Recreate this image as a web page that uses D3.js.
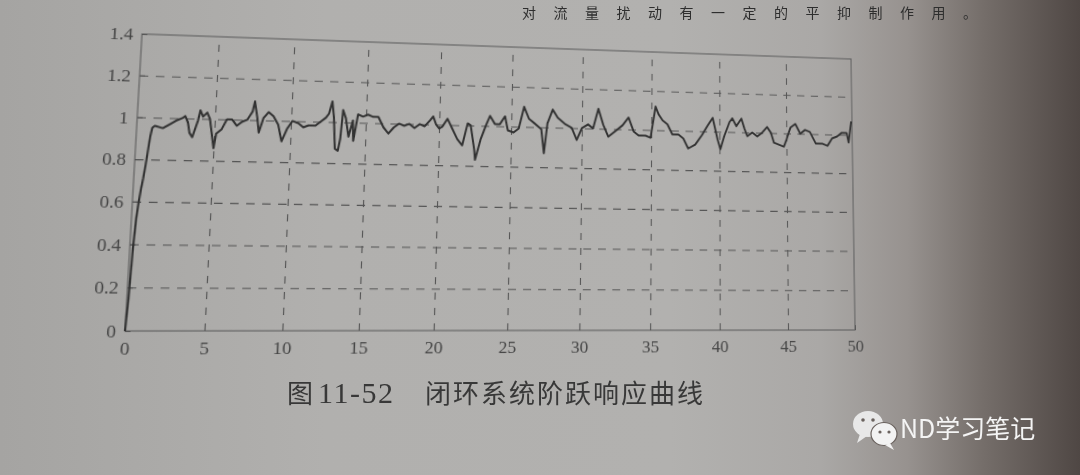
<!DOCTYPE html>
<html><head><meta charset="utf-8">
<script src="https://cdn.jsdelivr.net/npm/d3@7"></script>
<style>
html,body{margin:0;padding:0;width:1080px;height:475px;overflow:hidden;}
body{position:relative;background:linear-gradient(90deg,#a5a4a2 0%,#b1b0ae 30%,#b2b1af 62%,#aaa8a6 76%,#97928f 84%,#756e6a 91%,#4f4744 100%);}
#chart{position:absolute;left:0;top:0;transform-origin:0 0;}
#overlay{position:absolute;left:0;top:0;}
</style></head><body>
<svg id="chart" width="1080" height="475"></svg>
<svg id="overlay" width="1080" height="475"></svg>
<script>
// ---------------- data ----------------
const time = [0,0.1,0.2,0.3,0.4,0.5,0.6,0.7,0.8,0.9,1.0,
1.16,1.67,2.12,2.57,2.89,3.08,3.27,3.40,3.59,3.91,4.04,4.23,4.49,4.68,
5.00,5.13,5.46,5.79,6.12,6.45,6.78,7.11,7.44,7.57,7.77,7.90,8.17,8.50,8.83,9.16,9.42,9.75,
10.09,10.49,10.83,11.16,11.63,11.97,12.31,12.51,12.71,12.85,12.98,13.18,13.32,13.45,13.65,13.86,14.13,14.19,14.46,14.80,
15.14,15.49,15.84,16.20,16.55,16.90,17.25,17.61,17.96,18.31,18.66,19.01,19.37,19.58,19.79,
20.01,20.22,20.57,20.92,21.27,21.62,21.97,22.18,22.46,22.53,22.88,23.23,23.51,23.86,24.21,24.56,24.77,
25.17,25.53,25.89,26.25,26.61,27.12,27.33,27.55,27.91,28.27,28.77,29.28,29.64,
30.00,30.44,30.80,31.17,31.53,31.90,32.41,32.92,33.35,33.72,34.08,34.59,34.95,
35.31,35.53,35.82,36.18,36.54,36.98,37.34,37.70,38.21,38.71,39.14,39.50,39.86,
40.07,40.37,40.74,40.96,41.26,41.63,41.85,42.07,42.44,42.81,43.18,43.55,43.84,44.06,44.43,44.80,
45.02,45.31,45.68,46.05,46.41,46.78,47.22,47.74,48.10,48.47,48.84,49.21,49.57,49.72,49.94];
const response = [0,0.15,0.38,0.52,0.60,0.66,0.71,0.77,0.84,0.91,0.95,
0.96,0.95,0.97,0.99,1.00,1.01,0.98,0.93,0.91,0.99,1.04,1.01,1.03,1.00,
0.86,0.93,0.95,1.00,1.00,0.97,0.99,1.00,1.04,1.09,1.01,0.94,1.01,1.04,1.02,0.98,0.90,0.96,
1.00,0.99,0.97,0.98,0.98,1.00,1.02,1.04,1.10,1.02,0.87,0.86,0.92,1.06,1.02,0.93,1.01,0.91,1.04,1.03,
1.04,1.03,1.03,0.98,0.95,0.98,1.00,0.99,1.00,0.98,1.00,0.99,1.02,1.04,1.00,
0.98,0.99,1.03,0.98,0.93,0.90,1.01,1.00,0.88,0.83,0.93,1.00,1.05,1.01,1.01,1.05,0.98,
0.97,0.99,1.10,1.04,1.02,0.99,0.87,1.02,1.09,1.05,1.02,1.00,0.94,
1.00,1.02,1.00,1.10,1.02,0.96,0.99,1.02,1.06,0.99,0.97,0.97,0.96,
1.12,1.08,1.05,1.03,0.98,0.98,0.96,0.91,0.93,0.98,1.03,1.07,0.96,
0.91,0.98,1.05,1.07,1.03,1.07,1.02,0.98,1.00,0.98,1.00,1.03,1.00,0.95,0.94,0.93,
0.97,1.03,1.05,1.00,1.02,1.01,0.95,0.95,0.94,0.98,0.99,1.01,1.01,0.96,1.07];
const xTicks = [0,5,10,15,20,25,30,35,40,45,50];
const yTicks = [0,0.2,0.4,0.6,0.8,1.0,1.2,1.4];
const yTickLabels = ["0","0.2","0.4","0.6","0.8","1","1.2","1.4"];
const captionNumber = ["图","11-52"];
const captionTitle = "闭环系统阶跃响应曲线";
const topLine = "对流量扰动有一定的平抑制作用。";
const watermark = "ND学习笔记";

// ---------------- layout (flat), then warped like the photo ----------------
const P = {left:133, right:853, top:46, bottom:331};
const quad = [[142,34],[851,59],[855,330],[125,331]];   // photographed corners

function homography(src, dst){
  const A=[], b=[];
  for(let i=0;i<4;i++){
    const [x,y]=src[i], [X,Y]=dst[i];
    A.push([x,y,1,0,0,0,-X*x,-X*y]); b.push(X);
    A.push([0,0,0,x,y,1,-Y*x,-Y*y]); b.push(Y);
  }
  const n=8;
  for(let c=0;c<n;c++){
    let p=c; for(let r=c+1;r<n;r++) if(Math.abs(A[r][c])>Math.abs(A[p][c])) p=r;
    [A[c],A[p]]=[A[p],A[c]]; [b[c],b[p]]=[b[p],b[c]];
    for(let r=c+1;r<n;r++){ const f=A[r][c]/A[c][c]; for(let k=c;k<n;k++) A[r][k]-=f*A[c][k]; b[r]-=f*b[c]; }
  }
  const h=new Array(n).fill(0);
  for(let r=n-1;r>=0;r--){ let s=b[r]; for(let k=r+1;k<n;k++) s-=A[r][k]*h[k]; h[r]=s/A[r][r]; }
  return h;
}
const h = homography([[P.left,P.top],[P.right,P.top],[P.right,P.bottom],[P.left,P.bottom]], quad);
document.getElementById("chart").style.transform =
  `matrix3d(${h[0]},${h[3]},0,${h[6]},${h[1]},${h[4]},0,${h[7]},0,0,1,0,${h[2]},${h[5]},0,1)`;

const svg = d3.select("#chart");
const defs = svg.append("defs");
defs.append("filter").attr("id","soft").append("feGaussianBlur").attr("stdDeviation",0.45);
const g = svg.append("g").attr("filter","url(#soft)");

const x = d3.scaleLinear().domain([0,50]).range([P.left,P.right]);
const y = d3.scaleLinear().domain([0,1.4]).range([P.bottom,P.top]);
const H = P.bottom-P.top, W = P.right-P.left;

// grid
const gx = g.append("g").attr("transform",`translate(0,${P.bottom})`)
  .call(d3.axisBottom(x).tickValues(xTicks.slice(1,-1)).tickSize(-H).tickFormat(""));
gx.select(".domain").remove();
gx.selectAll("line").attr("stroke","#555").attr("stroke-width",1.1).attr("stroke-dasharray","7,8");
const gy = g.append("g").attr("transform",`translate(${P.left},0)`)
  .call(d3.axisLeft(y).tickValues(yTicks.slice(1,-1)).tickSize(-W).tickFormat(""));
gy.select(".domain").remove();
gy.selectAll("line").attr("stroke","#555").attr("stroke-width",1.1).attr("stroke-dasharray","8,7");

// frame
g.append("rect").attr("x",P.left).attr("y",P.top).attr("width",W).attr("height",H)
  .attr("fill","none").attr("stroke","#666").attr("stroke-width",1.2);

// axes with inward ticks
const ax = g.append("g").attr("transform",`translate(0,${P.bottom})`)
  .call(d3.axisBottom(x).tickValues(xTicks).tickSize(-5).tickPadding(10).tickFormat(d=>String(d)));
ax.select(".domain").remove();
ax.selectAll("line").attr("stroke","#555");
ax.selectAll("text").attr("fill","#454545").style("font-family","'Liberation Serif',serif").style("font-size","17.5px");
const ay = g.append("g").attr("transform",`translate(${P.left},0)`)
  .call(d3.axisLeft(y).tickValues(yTicks).tickSize(-5).tickPadding(8).tickFormat((d,i)=>yTickLabels[i]));
ay.select(".domain").remove();
ay.selectAll("line").attr("stroke","#555");
ay.selectAll("text").attr("fill","#454545").style("font-family","'Liberation Serif',serif").style("font-size","17.5px");

// response curve
const pts = time.map((t,i)=>({t, v:response[i]}));
g.append("path").datum(pts)
  .attr("d", d3.line().x(d=>x(d.t)).y(d=>y(d.v)))
  .attr("fill","none").attr("stroke","#333").attr("stroke-width",2).attr("stroke-linejoin","round");

// ---------------- page text (not warped) ----------------
const ov = d3.select("#overlay");
ov.append("text").attr("x",522).attr("y",18).attr("textLength",455).attr("lengthAdjust","spacing")
  .style("font-family","'Noto Sans CJK SC',sans-serif").style("font-size","14px").attr("fill","#2e2e2e").text(topLine);
const cap = ov.append("g").attr("fill","#383838");
cap.append("text").attr("x",287).attr("y",403)
  .style("font-family","'Noto Sans CJK SC',sans-serif").style("font-size","26px").text(captionNumber[0]);
cap.append("text").attr("x",318).attr("y",403).attr("textLength",75)
  .style("font-family","'Liberation Serif',serif").style("font-size","30px").text(captionNumber[1]);
cap.append("text").attr("x",425).attr("y",403).attr("textLength",278)
  .style("font-family","'Noto Sans CJK SC',sans-serif").style("font-size","26px").text(captionTitle);

// watermark
const wm = ov.append("g");
wm.append("ellipse").attr("cx",868).attr("cy",424).attr("rx",15).attr("ry",13).attr("fill","#e8e8e8");
wm.append("path").attr("d","M860,434 L857,443 L867,436 Z").attr("fill","#e8e8e8");
wm.append("ellipse").attr("cx",884).attr("cy",434).attr("rx",13).attr("ry",11.5).attr("fill","#f2f2f2").attr("stroke","#6a625e").attr("stroke-width",1.2);
wm.append("path").attr("d","M890,443 L894,450 L885,445 Z").attr("fill","#f2f2f2");
[[863,420],[873,420]].forEach(([cx,cy])=>wm.append("circle").attr("cx",cx).attr("cy",cy).attr("r",1.8).attr("fill","#6a625e"));
[[880,432],[889,432]].forEach(([cx,cy])=>wm.append("circle").attr("cx",cx).attr("cy",cy).attr("r",1.6).attr("fill","#6a625e"));
ov.append("text").attr("x",900).attr("y",438)
  .style("font-family","'Noto Sans CJK SC',sans-serif").style("font-size","25px").attr("fill","#f4f4f4").text(watermark);
</script>
</body></html>
